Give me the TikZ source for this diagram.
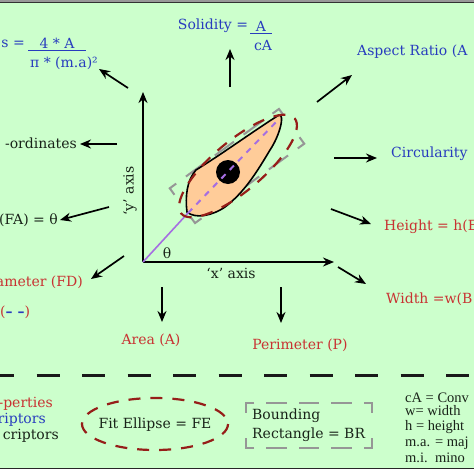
\documentclass[tikz,border=0pt]{standalone}
\usepackage{fontspec}
\setmainfont{DejaVu Serif}
\newfontfamily\keyfont{Liberation Serif}
\usetikzlibrary{arrows.meta}
\definecolor{bg}{RGB}{204,255,204}
\definecolor{tblue}{RGB}{40,60,190}
\definecolor{tred}{RGB}{200,50,50}
\definecolor{tdark}{RGB}{25,35,25}
\definecolor{ellred}{RGB}{150,30,25}
\definecolor{brgray}{RGB}{150,150,150}
\definecolor{purp}{RGB}{165,110,225}
\definecolor{peach}{RGB}{255,204,153}
\begin{document}
\begin{tikzpicture}[x=1pt,y=-1pt,
  lbl/.style={inner sep=0pt, font=\fontsize{14}{16}\selectfont},
  bluetxt/.style={lbl, text=tblue},
  redtxt/.style={lbl, text=tred},
  darktxt/.style={lbl, text=tdark},
  arr/.style={line width=1.7pt, -{Stealth[length=11pt,width=9pt]}},
  axis/.style={line width=2pt, -{Stealth[length=11pt,width=9pt]}},
  fitell/.style={ellred, line width=2.2pt, dash pattern=on 12pt off 10pt},
  brbox/.style={brgray, line width=2pt},
  fracbar/.style={tblue, line width=1pt},
  smalltxt/.style={inner sep=0pt, text=tdark, font=\keyfont\fontsize{14.5}{15}\selectfont, anchor=west},
]
\useasboundingbox (0,0) rectangle (474,474);
\clip (0,0) rectangle (474,474);
% background
\fill[white] (0,0) rectangle (474,474);
\fill[bg] (0,3) rectangle (474,468);
\fill[black!40] (0,0) rectangle (474,2);
\draw[black!80, line width=1.2pt] (0,2.6) -- (474,2.6);
\draw[black!85, line width=1.5pt] (0,468.5) -- (474,468.5);

% ---------- bounding rectangle (rotated) ----------
\begin{scope}[shift={(237,166)}, rotate=36]
  \draw[brbox] (-59.5,-21.5) -- (-67.5,-21.5) -- (-67.5,-13.5);
  \draw[brbox] (59.5,-21.5) -- (67.5,-21.5) -- (67.5,-13.5);
  \draw[brbox] (-59.5,21.5) -- (-67.5,21.5) -- (-67.5,13.5);
  \draw[brbox] (59.5,21.5) -- (67.5,21.5) -- (67.5,13.5);
  \foreach \a/\b in {-47.5/-23.8, -11.8/11.8, 23.8/47.5} {
    \draw[brbox] (\a,-21.5) -- (\b,-21.5);
    \draw[brbox] (\a,21.5) -- (\b,21.5);
  }
\end{scope}

% ---------- particle shape ----------
\draw[fill=peach, line width=1.6pt]
  (187,212) .. controls (185,196) and (187,180) .. (196,170)
  .. controls (225,152) and (255,130) .. (279,115)
  .. controls (285,114) and (280,135) .. (270,150)
  .. controls (258,170) and (245,192) .. (225,207)
  .. controls (212,216) and (195,219) .. cycle;
\fill[black] (228,172) circle (12);

% ---------- axes ----------
\coordinate (O) at (143,262);
\coordinate (ytip) at (143,92);
\coordinate (xtip) at (334,262);
\draw[axis] (O) -- (ytip);
\draw[axis] (O) -- (xtip);
\node[darktxt, rotate=90] (yax) at (130,191) {‘y’ axis};
\node[darktxt] (xax) at (231,273) {‘x’ axis};
\node[darktxt] (theta) at (167,253) {θ};

% ---------- Feret line ----------
\coordinate (P1) at (188,213);
\coordinate (P2) at (279,119);
\draw[purp, line width=1.6pt] (O) -- (P1);
\draw[purp, line width=2pt, dash pattern=on 6pt off 6pt] (P1) -- (P2);

% ---------- fit ellipse ----------
\draw[fitell, rotate around={40:(238,166)}] (238,166) ellipse [x radius=74, y radius=25];

% ---------- labels ----------
\node[bluetxt, anchor=east] (rlab) at (25,44) {s =};
\node[bluetxt] (rnum) at (57,43) {4 * A};
\coordinate (rb1) at (28,50);
\coordinate (rb2) at (86,50);
\draw[fracbar] (rb1) -- (rb2);
\node[bluetxt] (rden) at (64,63) {π * (m.a)²};

\node[bluetxt] (sol) at (213,26) {Solidity =};
\node[bluetxt] (snum) at (261,26) {A};
\coordinate (sb1) at (250,33);
\coordinate (sb2) at (272,33);
\draw[fracbar] (sb1) -- (sb2);
\node[bluetxt] (sden) at (263,45) {cA};

\node[bluetxt, anchor=west] (asp) at (357,52) {Aspect Ratio (A};
\node[bluetxt, anchor=west] (circ) at (391,154) {Circularity};
\node[redtxt, anchor=west] (hgt) at (384,227) {Height = h(E};
\node[redtxt, anchor=west] (wid) at (386,299) {Width =w(B};
\node[redtxt] (per) at (300,345) {Perimeter (P)};
\node[redtxt] (area) at (151,340) {Area (A)};
\node[redtxt, anchor=east] (fd) at (83,282) {ameter (FD)};
\node[lbl, anchor=west] (fdl) at (0,312) {\textcolor{tred}{(}\textcolor{tblue}{\textbf{– –}}\textcolor{tred}{)}};
\node[darktxt, anchor=east] (fa) at (58,220) {(FA) = θ};
\node[darktxt, anchor=east] (co) at (77,143) {-ordinates};

% ---------- arrows ----------
\coordinate (a1s) at (128,88);  \coordinate (a1e) at (99,69);
\coordinate (a2s) at (230,87);  \coordinate (a2e) at (230,49);
\coordinate (a3s) at (317,102); \coordinate (a3e) at (352,75);
\coordinate (a4s) at (334,158); \coordinate (a4e) at (377,158);
\coordinate (a5s) at (331,209); \coordinate (a5e) at (371,224);
\coordinate (a6s) at (338,267); \coordinate (a6e) at (366,284);
\coordinate (a7s) at (281,287); \coordinate (a7e) at (281,323);
\coordinate (a8s) at (162,287); \coordinate (a8e) at (162,322);
\coordinate (a9s) at (124,256); \coordinate (a9e) at (91,279);
\coordinate (a10s) at (109,207); \coordinate (a10e) at (60,220);
\coordinate (a11s) at (117,144); \coordinate (a11e) at (80,144);
\foreach \i in {1,...,11} { \draw[arr] (a\i s) -- (a\i e); }

% ---------- separator ----------
\coordinate (sepL) at (-9,375);
\coordinate (sepR) at (480,375);
\draw[black!90, line width=3pt, dash pattern=on 23pt off 22.5pt] (sepL) -- (sepR);

% ---------- legend ----------
\node[redtxt, anchor=east] (lg1) at (53,404) {-perties};
\node[bluetxt, anchor=east] (lg2) at (46,420) {riptors};
\node[darktxt, anchor=east] (lg3) at (59,436) {criptors};

\draw[fitell] (155,424) ellipse [x radius=73, y radius=26];
\node[darktxt] (fe) at (155,425) {Fit Ellipse = FE};

\draw[brbox] (254,403) -- (246,403) -- (246,413);
\draw[brbox] (364,403) -- (372,403) -- (372,413);
\draw[brbox] (254,448) -- (246,448) -- (246,438);
\draw[brbox] (364,448) -- (372,448) -- (372,438);
\foreach \a/\b in {266/287, 299/319, 331/352} {
  \draw[brbox] (\a,403) -- (\b,403);
  \draw[brbox] (\a,448) -- (\b,448);
}
\node[darktxt, anchor=west] (br1) at (252,416) {Bounding};
\node[darktxt, anchor=west] (br2) at (252,435) {Rectangle = BR};

\node[smalltxt] (k1) at (405,398) {cA = Conv};
\node[smalltxt] (k2) at (405,411) {w= width};
\node[smalltxt] (k3) at (405,427) {h = height};
\node[smalltxt] (k4) at (405,443) {m.a. = maj};
\node[smalltxt] (k5) at (405,458) {m.i.\ \ mino};
\end{tikzpicture}
\end{document}
